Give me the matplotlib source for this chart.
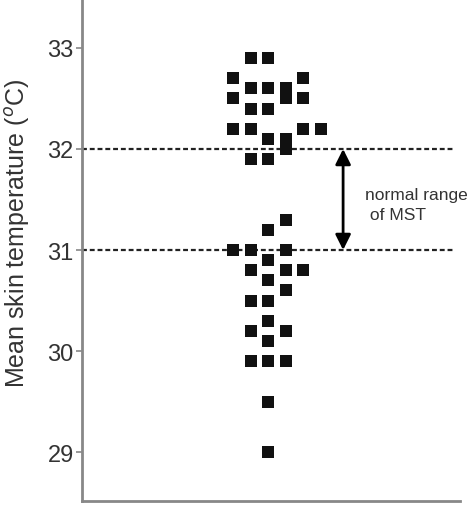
import numpy as np
import matplotlib
matplotlib.use('Agg')
import matplotlib.pyplot as plt

plt.rcParams['font.family'] = ['Liberation Sans', 'DejaVu Sans']

# mean skin temperature per subject (deg C) and the column each square sits in
mst = [32.9, 32.9,
       32.7, 32.7,
       32.6, 32.6, 32.6,
       32.5, 32.5, 32.5,
       32.4, 32.4,
       32.2, 32.2, 32.2, 32.2,
       32.1, 32.1, 32.0,
       31.9, 31.9,
       31.3, 31.2,
       31.0, 31.0, 31.0,
       30.9,
       30.8, 30.8, 30.8,
       30.7, 30.6,
       30.5, 30.5,
       30.3,
       30.2, 30.2,
       30.1,
       29.9, 29.9, 29.9,
       29.5, 29.0]
col = [2, 3,
       1, 5,
       2, 3, 4,
       4, 1, 5,
       2, 3,
       1, 2, 5, 6,
       3, 4, 4,
       2, 3,
       4, 3,
       1, 2, 4,
       3,
       2, 4, 5,
       3, 4,
       2, 3,
       3,
       2, 4,
       3,
       2, 3, 4,
       3, 3]

normal_low, normal_high = 31.0, 32.0
yticks = [29, 30, 31, 32, 33]

fig = plt.figure(figsize=(4.74, 5.06), dpi=100)
ax = fig.add_axes([82 / 474, 4 / 506, 378 / 474, 502 / 506])

ax.scatter(col, mst, marker='s', s=74, color='#111111', linewidths=0, zorder=3)

ax.set_xlim(-7.63, 13.97)
ax.set_ylim(28.515, 33.485)

for y in (normal_low, normal_high):
    ax.plot([-7.63, 13.69], [y, y], color='#222222', lw=1.6,
            linestyle=(0, (2.2, 1.3)), zorder=2)

ax.annotate('', xy=(7.29, normal_low), xytext=(7.29, normal_high),
            arrowprops=dict(arrowstyle='<|-|>', color='black', lw=2,
                            mutation_scale=23, shrinkA=0, shrinkB=0))
ax.text(8.55, 31.45, 'normal range\n of MST', fontsize=12.5, color='#333333',
        va='center', ha='left', linespacing=1.35)

ax.set_yticks(yticks)
ax.set_xticks([])
ax.tick_params(axis='y', labelsize=17, length=4, width=1.2, color='#888888',
               labelcolor='#333333', pad=2)
ax.set_ylabel('Mean skin temperature ($^{o}$C)', fontsize=18, color='#333333')
ax.yaxis.set_label_coords(-0.133, 0.536)

for side in ('top', 'right'):
    ax.spines[side].set_visible(False)
for side in ('left', 'bottom'):
    ax.spines[side].set_color('#888888')
    ax.spines[side].set_linewidth(2)

plt.savefig('out.png', dpi=100)
